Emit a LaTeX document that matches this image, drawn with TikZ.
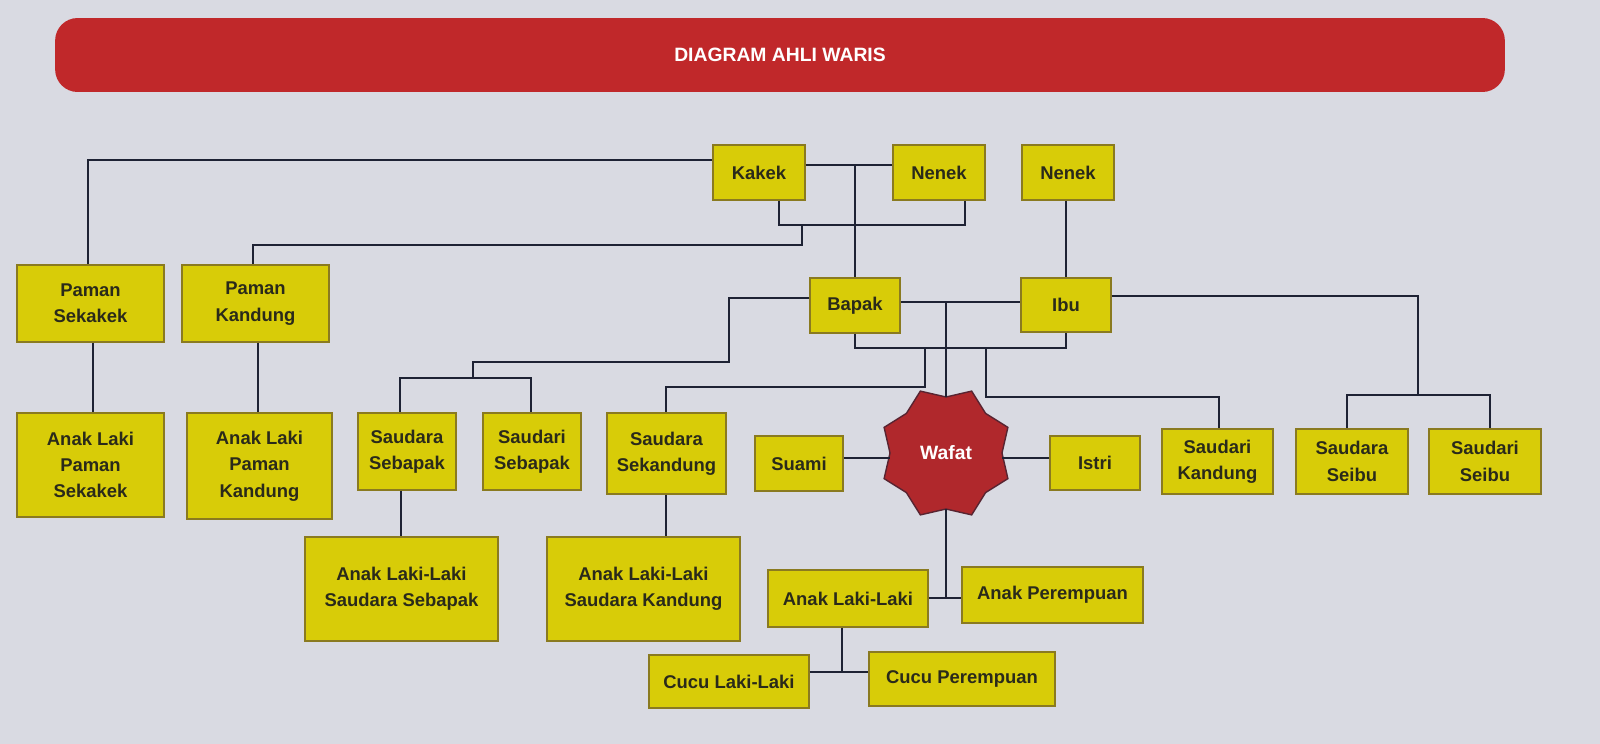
\documentclass[tikz,border=0pt]{standalone}
\usepackage{fontspec}
\setmainfont{Liberation Sans}
\definecolor{bg}{HTML}{D9DAE2}
\definecolor{yel}{HTML}{D8CC08}
\definecolor{yb}{HTML}{8A7A20}
\definecolor{ln}{HTML}{1E2234}
\definecolor{red1}{HTML}{C0282A}
\definecolor{red2}{HTML}{B0282C}
\definecolor{txt}{HTML}{2A2A1A}
\newcommand\bx[6]{\pgfmathsetmacro\bw{(#4-#2)*0.02}\pgfmathsetmacro\bh{(#5-#3)*0.02}%
\node[box,minimum width=\bw cm,minimum height=\bh cm] (#1) at ({(#2+#4)/2},{(#3+#5)/2}) {#6};}
\begin{document}
\begin{tikzpicture}[x=0.02cm,y=-0.02cm,
 box/.style={draw=yb,fill=yel,line width=0.6pt,inner sep=0pt,align=center,text=txt,font=\fontsize{10.5}{13}\selectfont\bfseries},
 conn/.style={draw=ln,line width=1.1pt}]
\fill[bg] (0,0) rectangle (1600,744);
\useasboundingbox (0,0) rectangle (1600,744);
\node[fill=red1,rounded corners=0.45cm,minimum width=29cm,minimum height=1.48cm,text=white,font=\fontsize{11}{13}\selectfont\bfseries] (title) at (780,55) {DIAGRAM AHLI WARIS};
\bx{kakek}{713}{145}{805}{200}{Kakek}
\bx{nenekA}{893}{145}{985}{200}{Nenek}
\bx{nenekB}{1022}{145}{1114}{200}{Nenek}
\bx{psk}{17}{265}{164}{342}{Paman\\[2pt]Sekakek}
\bx{pkd}{182}{265}{329}{342}{Paman\\[2pt]Kandung}
\bx{bapak}{810}{278}{900}{333}{Bapak}
\bx{ibu}{1021}{278}{1111}{332}{Ibu}
\bx{alpsk}{17}{413}{164}{517}{Anak Laki\\[2pt]Paman\\[2pt]Sekakek}
\bx{alpkd}{187}{413}{332}{519}{Anak Laki\\[2pt]Paman\\[2pt]Kandung}
\bx{ssb}{358}{413}{456}{490}{Saudara\\[2pt]Sebapak}
\bx{sisb}{483}{413}{581}{490}{Saudari\\[2pt]Sebapak}
\bx{ssk}{607}{413}{726}{494}{Saudara\\[2pt]Sekandung}
\bx{suami}{755}{436}{843}{491}{Suami}
\bx{istri}{1050}{436}{1140}{490}{Istri}
\bx{sik}{1162}{429}{1273}{494}{Saudari\\[2pt]Kandung}
\bx{ssi}{1296}{429}{1408}{494}{Saudara\\[2pt]Seibu}
\bx{sisi}{1429}{429}{1541}{494}{Saudari\\[2pt]Seibu}
\bx{alssb}{305}{537}{498}{641}{Anak Laki-Laki\\[2pt]Saudara Sebapak}
\bx{alssk}{547}{537}{740}{641}{Anak Laki-Laki\\[2pt]Saudara Kandung}
\bx{al}{768}{570}{928}{627}{Anak Laki-Laki}
\bx{ap}{962}{567}{1143}{623}{Anak Perempuan}
\bx{cl}{649}{655}{809}{708}{Cucu Laki-Laki}
\bx{cp}{869}{652}{1055}{706}{Cucu Perempuan}
% Wafat star
\fill[red2,draw=ln!60!red2,line width=0.8pt] (946,453) +(22.5:67) -- +(0:56) -- +(-22.5:67) -- +(-45:56) -- +(-67.5:67) -- +(-90:56) -- +(-112.5:67) -- +(-135:56) -- +(-157.5:67) -- +(180:56) -- +(157.5:67) -- +(135:56) -- +(112.5:67) -- +(90:56) -- +(67.5:67) -- +(45:56) -- cycle;
\node[circle,minimum size=2.24cm,inner sep=0pt,text=white,font=\fontsize{11}{13}\selectfont\bfseries] (wafat) at (946,453) {Wafat};
% coordinates
\coordinate (c1) at (88,160);
\coordinate (c2) at (855,165);
\coordinate (c3) at (779,225);
\coordinate (c4) at (965,225);
\coordinate (c5) at (802,245);
\coordinate (c6) at (253,245);
\coordinate (c7) at (946,302);
\coordinate (c8) at (855,348);
\coordinate (c9) at (925,348);
\coordinate (c10) at (986,348);
\coordinate (c11) at (729,298);
\coordinate (c12) at (473,362);
\coordinate (c13) at (400,378);
\coordinate (c14) at (666,398);
\coordinate (c15) at (1219,397);
\coordinate (c16) at (1418,296);
\coordinate (c17) at (1347,395);
\coordinate (c18) at (946,598);
\coordinate (c19) at (842,672);
\coordinate (c20) at (1066,240);
\begin{scope}[conn]
\draw (psk.north-|c1) |- (kakek.west|-c1);
\draw (kakek.east|-c2) -- (nenekA.west|-c2);
\draw (c2) -- (bapak.north);
\draw (kakek.south-|c3) |- (c4) -- (nenekA.south-|c4);
\draw (c5|-c3) -- (c5) -| (pkd.north-|c6);
\draw (nenekB.south-|c20) -- (ibu.north-|c20);
\draw (bapak.east|-c7) -- (ibu.west|-c7);
\draw (c7) -- (wafat.north-|c7);
\draw (bapak.south) |- (c8) -| (ibu.south-|c20);
\draw (c9) |- (c14|-0,387) -- (ssk.north-|c14);
\draw (c10) |- (c15) -- (sik.north-|c15);
\draw (bapak.west|-c11) -| (c11|-c12) -| (c12|-c13) ;
\draw (c12|-c13) -| (ssb.north-|c13);
\draw (c12|-c13) -| (sisb.north-|531,0);
\draw (ibu.east|-c16) -| (c16|-c17);
\draw (c16|-c17) -| (ssi.north-|c17);
\draw (c16|-c17) -| (sisi.north-|1490,0);
\draw (psk.south-|93,0) -- (alpsk.north-|93,0);
\draw (pkd.south-|258,0) -- (alpkd.north-|258,0);
\draw (ssb.south-|401,0) -- (alssb.north-|401,0);
\draw (ssk.south-|c14) -- (alssk.north-|c14);
\draw (suami.east|-0,458) -- (wafat.west|-0,458);
\draw (istri.west|-0,458) -- (wafat.east|-0,458);
\draw (wafat.south-|c18) -- (c18);
\draw (al.east|-c18) -- (ap.west|-c18);
\draw (al.south-|c19) -- (c19);
\draw (cl.east|-c19) -- (cp.west|-c19);
\end{scope}
\end{tikzpicture}
\end{document}
